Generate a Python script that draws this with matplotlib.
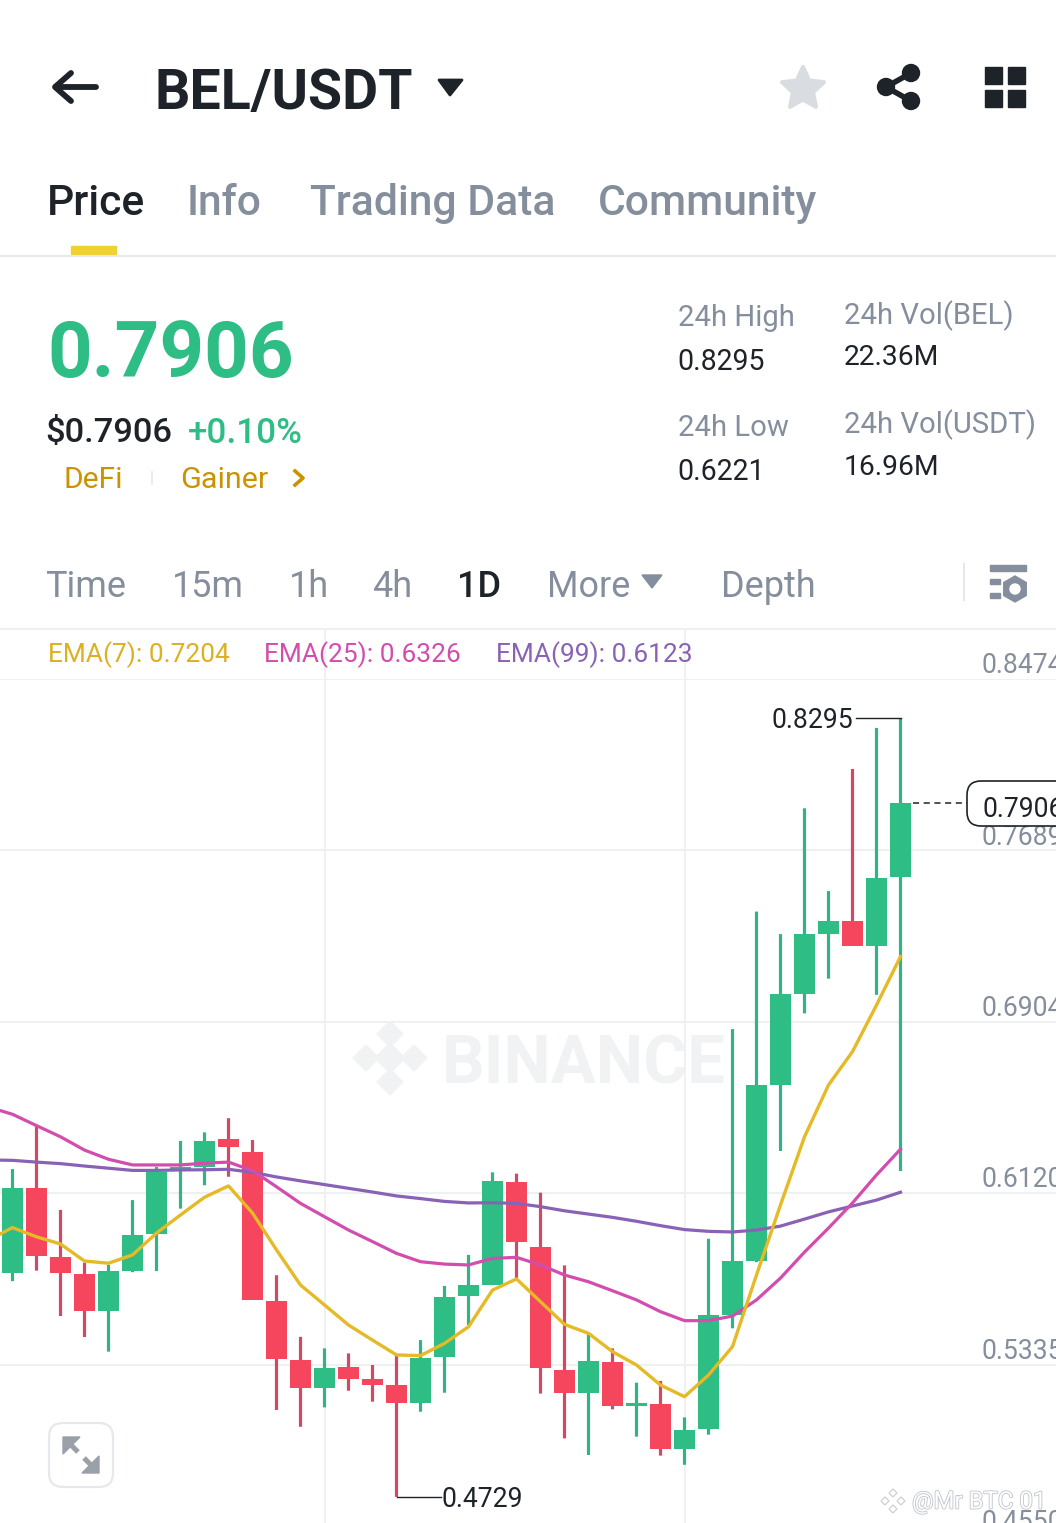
import numpy as np
import matplotlib
matplotlib.use("Agg")
import matplotlib.pyplot as plt
import matplotlib.patheffects as pe
from matplotlib.patches import FancyBboxPatch, Polygon, Rectangle, Circle, RegularPolygon

plt.rcParams['font.family'] = ['Roboto', 'DejaVu Sans']

GREEN = '#2EBD85'
GREEN_WICK = '#33B285'
RED = '#F6465D'
RED_WICK = '#CF4A62'
DARK = '#1E2329'
GRAY = '#848E9C'
LINE = '#EEF0F2'
GOLD = '#C99400'

# daily candles
opens = [0.5755, 0.6145, 0.5829, 0.5749, 0.5579, 0.5765, 0.5931, 0.6223, 0.6241, 0.6366,
         0.6310, 0.5627, 0.5356, 0.5226, 0.5322, 0.5270, 0.5241, 0.5160, 0.5371, 0.5650,
         0.5701, 0.6169, 0.5875, 0.5311, 0.5205, 0.5347, 0.5147, 0.5153, 0.4948, 0.5040,
         0.5563, 0.5809, 0.6616, 0.7033, 0.7308, 0.7366, 0.7253, 0.7566]
closes = [0.6145, 0.5832, 0.5754, 0.5579, 0.5763, 0.5928, 0.6218, 0.6238, 0.6357, 0.6331,
          0.5631, 0.5359, 0.5229, 0.5319, 0.5269, 0.5243, 0.5160, 0.5364, 0.5644, 0.5698,
          0.6175, 0.5896, 0.5318, 0.5205, 0.5351, 0.5147, 0.5159, 0.4948, 0.5035, 0.5562,
          0.5809, 0.6614, 0.7032, 0.7305, 0.7366, 0.7252, 0.7564, 0.7906]
highs = [0.6230, 0.6424, 0.6043, 0.5801, 0.5791, 0.6088, 0.6240, 0.6359, 0.6398, 0.6463,
         0.6363, 0.5744, 0.5462, 0.5409, 0.5386, 0.5333, 0.5377, 0.5447, 0.5695, 0.5837,
         0.6215, 0.6209, 0.6122, 0.5789, 0.5478, 0.5409, 0.5252, 0.5260, 0.5093, 0.5911,
         0.6871, 0.7409, 0.7306, 0.7882, 0.7503, 0.8062, 0.8250, 0.8295]
lows = [0.5717, 0.5765, 0.5557, 0.5461, 0.5394, 0.5758, 0.5763, 0.6049, 0.6156, 0.6195,
        0.5631, 0.5127, 0.5050, 0.5139, 0.5215, 0.5165, 0.4729, 0.5119, 0.5206, 0.5516,
        0.5701, 0.5730, 0.5202, 0.4997, 0.4921, 0.5130, 0.5005, 0.4918, 0.4876, 0.5014,
        0.5501, 0.5804, 0.6313, 0.6943, 0.7102, 0.7252, 0.7028, 0.6221]

# moving averages, first value sits just left of the screen
ema7 = [0.5905, 0.5962, 0.5920, 0.5887, 0.5809, 0.5799, 0.5837, 0.5937, 0.6020, 0.6101, 0.6153,
        0.6029, 0.5860, 0.5699, 0.5608, 0.5516, 0.5447, 0.5379, 0.5376, 0.5432, 0.5508,
        0.5676, 0.5727, 0.5623, 0.5519, 0.5478, 0.5394, 0.5333, 0.5241, 0.5188, 0.5287,
        0.5417, 0.5745, 0.6066, 0.6378, 0.6615, 0.6768, 0.6981, 0.7203]
ema25 = [0.6514, 0.6481, 0.6429, 0.6378, 0.6317, 0.6275, 0.6249, 0.6249, 0.6249, 0.6257, 0.6262,
         0.6223, 0.6149, 0.6073, 0.6012, 0.5951, 0.5898, 0.5844, 0.5806, 0.5795, 0.5791,
         0.5821, 0.5826, 0.5791, 0.5745, 0.5714, 0.5673, 0.5631, 0.5577, 0.5536, 0.5536,
         0.5557, 0.5631, 0.5731, 0.5850, 0.5960, 0.6075, 0.6203, 0.6321]
ema99 = [0.6272, 0.6270, 0.6262, 0.6255, 0.6244, 0.6234, 0.6224, 0.6224, 0.6226, 0.6227, 0.6229,
         0.6215, 0.6194, 0.6176, 0.6159, 0.6142, 0.6125, 0.6107, 0.6095, 0.6082, 0.6075,
         0.6076, 0.6073, 0.6058, 0.6039, 0.6024, 0.6009, 0.5991, 0.5971, 0.5953, 0.5945,
         0.5942, 0.5951, 0.5969, 0.6001, 0.6034, 0.6061, 0.6088, 0.6124]

price_ticks = [0.8474, 0.7689, 0.6904, 0.6120, 0.5335, 0.4550]
date_grid = [13, 28]

tabs = ["Price", "Info", "Trading Data", "Community"]
intervals = ["Time", "15m", "1h", "4h", "1D", "More", "Depth"]
ema_labels = ["EMA(7): 0.7204", "EMA(25): 0.6326", "EMA(99): 0.6123"]

W, H = 1056, 1523
fig = plt.figure(figsize=(W / 100, H / 100), dpi=100, facecolor='white')

# whole page in pixel coordinates for the app chrome
ui = fig.add_axes([0, 0, 1, 1], zorder=0)
ui.set_xlim(0, W)
ui.set_ylim(H, 0)
ui.axis('off')

# candle chart, 24 px per candle, 2184 px per 1.0 of price
top_px = 679
ax = fig.add_axes([0, 0, 1, (H - top_px) / H], zorder=1)
ax.patch.set_alpha(0)
ax.set_xlim(-12.5 / 24, (W - 12.5) / 24)
ax.set_ylim(price_ticks[-1] + 13 / 2184, price_ticks[0])
ax.axis('off')


def txt(x, y, s, size, color=DARK, weight='normal', **kw):
    # size given in px, nudged for Roboto's side bearing and centre
    kw.setdefault('va', 'center')
    return ui.text(x - 1.5, y + 2, s, fontsize=size * 0.72, color=color, fontweight=weight, **kw)


# header
ui.plot([57, 96], [87, 87], color=DARK, lw=4.2, solid_capstyle='round')
ui.plot([71, 55, 71], [73, 87, 101], color=DARK, lw=4.2, solid_capstyle='round', solid_joinstyle='round')
txt(156, 92, "BEL/USDT", 55.5, weight='bold')
ui.add_patch(Polygon([[439, 80], [462, 80], [450, 95]], closed=True, fc=DARK, ec=DARK, lw=2, joinstyle='round'))

ang = np.arange(10) * np.pi / 5 - np.pi / 2
rad = np.where(np.arange(10) % 2 == 0, 22, 10.5)
ui.add_patch(Polygon(np.c_[803 + rad * np.cos(ang), 89 + rad * np.sin(ang)], closed=True,
                     fc='#D9DCE1', ec='#D9DCE1', lw=3, joinstyle='round'))

ui.plot([911, 886, 911], [73, 87, 101], color=DARK, lw=4)
for cx, cy, r in [(886, 87, 8.5), (911, 73, 8.5), (911, 101, 8.5)]:
    ui.add_patch(Circle((cx, cy), r, color=DARK))
for sx, sy in [(985, 67), (1008, 67), (985, 90), (1008, 90)]:
    ui.add_patch(Rectangle((sx, sy), 17, 17, color=DARK))

# tabs
for label, x in zip(tabs, [48, 188, 311, 599]):
    txt(x, 201, label, 42.6, color=DARK if label == "Price" else GRAY, weight='medium')
ui.add_patch(Rectangle((71, 246), 45, 8, color='#F0D12F'))
ui.axhline(256, color='#E6E8EB', lw=1.5)

# ticker block
txt(49, 354, "0.7906", 78, color=GREEN, weight='bold')
txt(47, 431, "$0.7906", 34.5, weight='medium')
txt(189, 431, "+0.10%", 35, color=GREEN, weight='medium')
txt(65, 478, "DeFi", 30, color=GOLD)
ui.plot([152, 152], [472, 484], color='#E6E8EB', lw=1.2)
txt(182, 478, "Gainer", 30.5, color=GOLD)
ui.plot([295, 303, 295], [471, 478, 485], color=GOLD, lw=2.6)

txt(679, 316, "24h High", 29.3, color=GRAY)
txt(679, 360, "0.8295", 28.5)
txt(679, 426, "24h Low", 29.3, color=GRAY)
txt(679, 470, "0.6221", 28.5)
txt(845, 314, "24h Vol(BEL)", 29.3, color=GRAY)
txt(845, 355, "22.36M", 28.3)
txt(845, 423, "24h Vol(USDT)", 29.3, color=GRAY)
txt(845, 465, "16.96M", 28.3)

# interval row
for label, x in zip(intervals, [47, 173, 290, 374, 459, 549, 723]):
    active = label == "1D"
    txt(x, 585, label, 36, color=DARK if active else GRAY, weight='medium' if active else 'normal')
ui.add_patch(Polygon([[642, 575], [662, 575], [652, 588]], closed=True, color=GRAY))
ui.plot([964, 964], [564, 600], color='#E6E8EB', lw=1.5)
ui.add_patch(Rectangle((990, 565), 36, 6, color=GRAY))
ui.add_patch(Rectangle((990, 579), 10, 5, color=GRAY))
ui.add_patch(Rectangle((990, 593), 10, 5, color=GRAY))
ui.add_patch(RegularPolygon((1015, 589), 6, radius=13, color=GRAY))
ui.add_patch(Circle((1015, 589), 5, color='white'))

ui.axhline(629, color=LINE, lw=1.5)
for label, x, c in zip(ema_labels, [50, 266, 498], ['#DDB01F', '#D24DAE', '#8A62B5']):
    txt(x, 653, label, 26.3, color=c)

# watermark behind the candles
logo = [(390, 1034, 9), (366, 1058, 9), (414, 1058, 9), (390, 1082, 9), (390, 1058, 11)]
for cx, cy, r in logo:
    ui.add_patch(Polygon([[cx, cy - r - 4], [cx + r + 4, cy], [cx, cy + r + 4], [cx - r - 4, cy]],
                         closed=True, color='#F1F2F4'))
txt(443, 1063, "BINANCE", 67, color='#F1F2F4', weight='bold')

# grid
for p in price_ticks:
    ax.axhline(p, color=LINE, lw=1.4, zorder=1)
    ax.text(40.38, p - 0.0001, f"{p:.4f}", fontsize=26.5 * 0.72, color=GRAY, va='bottom', zorder=2)
for d in date_grid:
    ui.plot([12.5 + 24 * d] * 2, [630, H], color=LINE, lw=1.4)

# candles
idx = np.arange(len(opens))
o, c = np.array(opens), np.array(closes)
up = c >= o
ax.vlines(idx[up], np.array(lows)[up], np.array(highs)[up], color=GREEN_WICK, lw=2.3, zorder=3, snap=False)
ax.vlines(idx[~up], np.array(lows)[~up], np.array(highs)[~up], color=RED_WICK, lw=2.3, zorder=3, snap=False)
ax.bar(idx, np.abs(c - o), bottom=np.minimum(o, c), width=0.875,
       color=[GREEN if u else RED for u in up], lw=0, zorder=4)

ema_x = np.arange(-1, len(opens))
ax.plot(ema_x, ema99, color='#8A62B5', lw=2.3, zorder=5)
ax.plot(ema_x, ema25, color='#D24DAE', lw=2.3, zorder=5)
ax.plot(ema_x, ema7, color='#E6B926', lw=2.4, zorder=5)

# high / low callouts
hi = int(np.argmax(highs))
lo = int(np.argmin(lows))
ax.plot([hi - 1.85, hi], [highs[hi], highs[hi]], color=DARK, lw=1, zorder=6)
ax.text(hi - 1.98, highs[hi] - 0.0012, f"{highs[hi]:.4f}", fontsize=26.5 * 0.72, color=DARK, ha='right', va='center', zorder=6)
ax.plot([lo, lo + 1.85], [lows[lo], lows[lo]], color=DARK, lw=1, zorder=6)
ax.text(lo + 1.86, lows[lo] - 0.0012, f"{lows[lo]:.4f}", fontsize=26.5 * 0.72, color=DARK, ha='left', va='center', zorder=6)

# last price tag
last = closes[-1]
ax.plot([len(opens) - 0.5, 39.75], [last, last], color=DARK, lw=1.1, ls=(0, (4, 3)), zorder=6)
ax.add_patch(FancyBboxPatch((976, 790), 110, 27, boxstyle="round,pad=9,rounding_size=14", transform=ui.transData,
                            fc='white', ec=DARK, lw=1.2, zorder=7, clip_on=False))
ax.text(982, 809, f"{last:.4f}", transform=ui.transData, fontsize=26.5 * 0.72, color=DARK, va='center', zorder=8)

# expand button
ax.add_patch(FancyBboxPatch((59, 1433), 44, 44, boxstyle="round,pad=10,rounding_size=14", transform=ui.transData,
                            fc='white', ec='#E6E8EB', lw=1.6, zorder=7, clip_on=False))
for a, b in [((63, 1437), 1), ((99, 1473), -1)]:
    x0, y0 = a
    ax.add_patch(Polygon([[x0, y0], [x0 + 17 * b, y0], [x0, y0 + 17 * b]], closed=True, transform=ui.transData,
                         color='#9AA0A8', zorder=8, clip_on=False))
    ax.plot([x0 + 8 * b, x0 + 15 * b], [y0 + 8 * b, y0 + 15 * b], transform=ui.transData, color='#9AA0A8', lw=3.6,
            solid_capstyle='butt', zorder=8)

# uploader tag
for cx, cy in [(893, 1493), (885, 1501), (901, 1501), (893, 1509)]:
    ax.add_patch(Polygon([[cx, cy - 4], [cx + 4, cy], [cx, cy + 4], [cx - 4, cy]], closed=True, transform=ui.transData,
                         fc='white', ec='#C8CCD2', lw=0.8, zorder=8, clip_on=False))
ax.text(912, 1502, "@Mr BTC 01", transform=ui.transData, fontsize=24 * 0.72, color='white', va='center', zorder=8,
        path_effects=[pe.withStroke(linewidth=1.2, foreground='#BFC4CA')])

fig.savefig("out.png", dpi=100)
